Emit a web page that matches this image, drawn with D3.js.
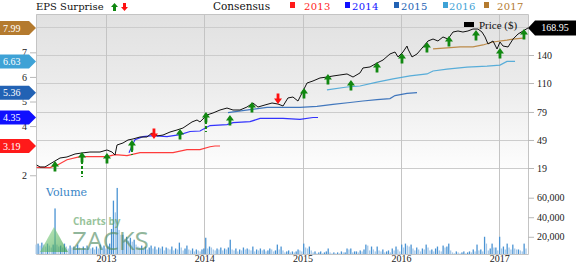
<!DOCTYPE html>
<html>
<head>
<meta charset="utf-8">
<script src="https://cdn.jsdelivr.net/npm/d3@7"></script>
<style>
  body { margin: 0; background: #fff; }
  svg { display: block; }
  .tick text { font-family: "Liberation Serif", serif; font-size: 10px; fill: #222; }
  .tick line { stroke: #b8b8b8; }
</style>
</head>
<body>
<div id="chart"></div>
<script>
// ---- values ----
const yearTicks = [2013, 2014, 2015, 2016, 2017];
const priceGrid = [19, 49, 79, 110, 140, 170];
const priceTicks = [19, 49, 79, 110, 140];
const epsTicks = [2, 4, 5, 6, 7];
const volumeTicks = [20000, 40000, 60000];
const lastPrice = 168.95;

// closing price, [decimal year, $]
const price = [
  [2012.295, 22.2], [2012.329, 20.1], [2012.379, 20.1], [2012.430, 23.3], [2012.481, 26.5],
  [2012.532, 29.7], [2012.603, 30.8], [2012.685, 34.0], [2012.756, 35.1], [2012.837, 36.1],
  [2012.939, 36.1], [2013.010, 38.3], [2013.061, 36.1], [2013.092, 32.9], [2013.112, 43.6],
  [2013.173, 45.8], [2013.224, 49.0], [2013.275, 50.1], [2013.346, 52.2], [2013.417, 52.2],
  [2013.468, 56.5], [2013.519, 53.3], [2013.580, 54.3], [2013.651, 57.5], [2013.722, 59.7],
  [2013.783, 61.8], [2013.875, 68.3], [2013.926, 70.4], [2013.956, 68.3], [2014.027, 75.8],
  [2014.088, 77.9], [2014.160, 81.1], [2014.231, 83.2], [2014.292, 81.1], [2014.363, 81.1],
  [2014.434, 84.3], [2014.495, 88.6], [2014.546, 84.3], [2014.618, 86.5], [2014.689, 88.6],
  [2014.750, 87.5], [2014.801, 85.4], [2014.851, 94.0], [2014.902, 95.0], [2014.953, 90.7],
  [2014.994, 99.3], [2015.045, 110.0], [2015.106, 112.2], [2015.177, 115.4], [2015.248, 116.4],
  [2015.309, 117.5], [2015.380, 118.6], [2015.452, 119.7], [2015.513, 116.4], [2015.584, 120.8],
  [2015.614, 126.1], [2015.686, 127.2], [2015.757, 131.4], [2015.818, 134.6], [2015.889, 141.1],
  [2015.940, 143.2], [2015.971, 137.9], [2016.021, 143.2], [2016.062, 149.6], [2016.072, 146.4],
  [2016.113, 137.9], [2016.164, 141.1], [2016.225, 148.6], [2016.276, 155.0], [2016.327, 157.1],
  [2016.377, 155.0], [2016.428, 159.3], [2016.479, 157.1], [2016.530, 164.6], [2016.581, 165.7],
  [2016.631, 164.6], [2016.682, 165.7], [2016.733, 167.8], [2016.784, 167.8], [2016.825, 164.6],
  [2016.856, 159.3], [2016.886, 151.8], [2016.937, 155.0], [2016.978, 146.4], [2017.008, 153.9],
  [2017.039, 149.6], [2017.090, 148.6], [2017.141, 157.1], [2017.192, 162.5], [2017.243, 165.7],
  [2017.293, 168.95]
];

// consensus EPS estimate for each fiscal year, [decimal year, EPS]
const cons2013 = [
  [2012.295, 2.32], [2012.430, 2.31], [2012.512, 2.43], [2012.603, 2.63], [2012.736, 2.76],
  [2012.868, 2.76], [2013.010, 2.76], [2013.092, 2.84], [2013.214, 2.80], [2013.346, 2.92],
  [2013.519, 2.92], [2013.682, 2.92], [2013.824, 3.04], [2013.956, 3.04], [2014.058, 3.16],
  [2014.109, 3.19], [2014.160, 3.19]
];
const cons2014 = [
  [2013.234, 2.92], [2013.295, 3.45], [2013.376, 3.57], [2013.478, 3.61], [2013.621, 3.57],
  [2013.753, 3.65], [2013.855, 3.78], [2013.956, 3.80], [2014.058, 4.02], [2014.231, 4.06],
  [2014.292, 4.14], [2014.465, 4.18], [2014.567, 4.31], [2014.801, 4.31], [2014.974, 4.27],
  [2015.106, 4.35], [2015.157, 4.35]
];
const cons2015 = [
  [2014.241, 4.55], [2014.465, 4.67], [2014.638, 4.76], [2014.974, 4.76], [2015.146, 4.80],
  [2015.309, 4.88], [2015.482, 4.96], [2015.614, 5.02], [2015.757, 5.08], [2015.889, 5.12],
  [2015.940, 5.24], [2016.062, 5.33], [2016.164, 5.36]
];
const cons2016 = [
  [2015.248, 5.47], [2015.452, 5.59], [2015.584, 5.63], [2015.757, 5.79], [2015.920, 5.92],
  [2016.093, 6.04], [2016.266, 6.12], [2016.327, 6.24], [2016.469, 6.32], [2016.672, 6.40],
  [2016.876, 6.44], [2017.008, 6.48], [2017.079, 6.63], [2017.161, 6.63]
];
const cons2017 = [
  [2016.327, 7.14], [2016.469, 7.18], [2016.601, 7.22], [2016.733, 7.22], [2016.835, 7.30],
  [2016.937, 7.42], [2017.079, 7.50], [2017.140, 7.54], [2017.242, 7.58]
];
const consYears = ["2013", "2014", "2015", "2016", "2017"];
const consLast = [3.19, 4.35, 5.36, 6.63, 7.99];

// EPS surprise markers: date, price level at the arrow tip, direction, dashed tail end
const surpriseT = [2012.481, 2012.756, 2013.010, 2013.264, 2013.488, 2013.753, 2014.017,
  2014.261, 2014.485, 2014.750, 2015.014, 2015.258, 2015.492, 2015.757, 2016.011, 2016.265,
  2016.489, 2016.764, 2017.008, 2017.252];
const surpriseAt = [26.5, 36.1, 35.1, 49.0, 50.1, 60.8, 79.0, 75.8, 89.7, 87.5, 104.7, 119.7,
  113.2, 132.5, 142.1, 153.9, 160.3, 166.8, 147.5, 167.8];
const surpriseDir = ["up", "up", "up", "up", "down", "up", "up", "up", "up", "down", "up", "up",
  "up", "up", "up", "up", "up", "up", "up", "up"];
const surpriseTail = [null, 9.4, null, 32.9, null, null, 57.5, null, null, null, null, null,
  null, null, null, null, null, null, null, null];

// weekly volume, thousands of shares
const volumeStart = 2012.29;
const volume = [
  12, 13, 11, 14, 12, 10, 13, 11, 9, 12,
  49, 12, 10, 11, 9, 13, 10, 8, 11, 9,
  10, 8, 12, 9, 7, 10, 8, 11, 9, 8,
  9, 7, 10, 8, 12, 9, 11, 8, 10, 13,
  28, 57, 45, 70, 27, 22, 22, 18, 20, 16,
  19, 15, 17, 12, 10, 9, 11, 8, 10, 7,
  9, 11, 8, 10, 7, 9, 8, 10, 6, 9,
  8, 7, 10, 6, 8, 7, 14, 9, 6, 8,
  11, 7, 6, 8, 5, 7, 6, 5, 7, 8,
  19, 8, 10, 9, 7, 6, 8, 7, 9, 6,
  8, 7, 9, 17, 7, 6, 8, 5, 7, 6,
  9, 7, 8, 7, 6, 10, 5, 7, 6, 8,
  6, 7, 5, 6, 8, 7, 5, 6, 12, 7,
  10, 6, 4, 5, 6, 4, 5, 4, 5, 7,
  6, 5, 13, 9, 8, 10, 6, 4, 5, 3,
  4, 5, 3, 4, 5, 8, 4, 3, 4, 3,
  4, 3, 5, 4, 4, 8, 7, 8, 4, 5,
  5, 4, 6, 5, 7, 12, 11, 6, 10, 7,
  5, 10, 6, 5, 7, 4, 5, 6, 4, 8,
  6, 10, 7, 5, 12, 9, 13, 11, 10, 12,
  8, 6, 9, 7, 5, 8, 7, 12, 9, 6,
  7, 5, 8, 10, 6, 5, 11, 9, 10, 13,
  6, 4, 3, 5, 4, 3, 4, 5, 3, 4,
  5, 4, 7, 5, 12, 6, 7, 5, 20, 13,
  6, 8, 13, 9, 9, 6, 20, 8, 10, 7,
  13, 9, 7, 12, 8, 7, 7, 6, 5, 13,
  8
];

// ---- chart ----
class EpsChart {
  constructor(opts) {
    this.element = opts.element;
    this.width = 576;
    this.height = 264;
    this.box = { left: 36, right: 528, top: 14, priceBottom: 168, bottom: 254 };
    this.colors = { "2013": "#ff1a1a", "2014": "#1010ff", "2015": "#2262b4", "2016": "#3ea2d6", "2017": "#b47a2e" };
    this.draw();
  }

  draw() {
    const svg = d3.select(this.element).append("svg")
      .attr("width", this.width)
      .attr("height", this.height);
    this.svg = svg;
    this.createScales();
    this.addBackground();
    this.addVolume();
    this.addWatermark();
    this.addAxes();
    this.addLines();
    this.addSurprises();
    this.addLabels();
    this.addLegend();
  }

  createScales() {
    const b = this.box;
    this.x = d3.scaleLinear().domain([2012.288, 2017.293]).range([b.left, b.right]);
    this.yPrice = d3.scaleLinear().domain([19, 140]).range([168, 55]);
    this.yEps = d3.scaleLinear().domain([3.19, 7.99]).range([146, 28]);
    this.yVol = d3.scaleLinear().domain([0, 60000]).range([256.3, 197.7]);
  }

  addBackground() {
    const b = this.box;
    const grad = this.svg.append("defs").append("linearGradient")
      .attr("id", "bg").attr("x1", 0).attr("y1", 0).attr("x2", 0).attr("y2", 1);
    grad.append("stop").attr("offset", "0%").attr("stop-color", "#e1e1e1");
    grad.append("stop").attr("offset", "45%").attr("stop-color", "#ebebeb");
    grad.append("stop").attr("offset", "100%").attr("stop-color", "#fdfdfd");
    this.svg.append("rect")
      .attr("x", b.left).attr("y", b.top)
      .attr("width", b.right - b.left).attr("height", b.priceBottom - b.top)
      .attr("fill", "url(#bg)");

    // grid
    this.svg.append("g").selectAll("line").data(priceGrid).join("line")
      .attr("x1", b.left).attr("x2", b.right)
      .attr("y1", d => Math.round(this.yPrice(d)) + 0.5).attr("y2", d => Math.round(this.yPrice(d)) + 0.5)
      .attr("stroke", "#cccccc");
    this.svg.append("g").selectAll("line").data(yearTicks).join("line")
      .attr("x1", d => Math.round(this.x(d)) + 0.5).attr("x2", d => Math.round(this.x(d)) + 0.5)
      .attr("y1", b.top).attr("y2", b.bottom)
      .attr("stroke", "#c4c4c4");
    // frame
    this.svg.append("path")
      .attr("d", `M${b.left + 0.5},${b.top + 0.5}H${b.right + 0.5}V${b.bottom + 0.5}H${b.left + 0.5}Z`)
      .attr("fill", "none").attr("stroke", "#c4c4c4");
  }

  addVolume() {
    const b = this.box;
    const week = 1 / 52.18;
    const bars = volume.map((v, i) => ({ t: volumeStart + i * week, v: v * 1000, up: i > 0 && v >= volume[i - 1] }));
    this.svg.append("g").selectAll("rect").data(bars).join("rect")
      .attr("x", d => this.x(d.t) - 0.65)
      .attr("width", 1.3)
      .attr("y", d => Math.min(b.bottom, this.yVol(d.v)))
      .attr("height", d => Math.max(0, b.bottom - this.yVol(d.v)))
      .attr("fill", d => d.up ? "#4a93d3" : "#a5c8e9");

    this.svg.append("text")
      .attr("x", 46).attr("y", 196)
      .attr("font-family", "DejaVu Serif").attr("font-size", 11)
      .attr("fill", "#3b86c6")
      .text("Volume");
  }

  addWatermark() {
    const g = this.svg.append("g").attr("opacity", 0.62);
    const tg = this.svg.select("defs").append("linearGradient")
      .attr("id", "tri").attr("x1", 0).attr("y1", 0).attr("x2", 1).attr("y2", 1);
    tg.append("stop").attr("offset", "0%").attr("stop-color", "#9ee09a");
    tg.append("stop").attr("offset", "100%").attr("stop-color", "#2f9a3c");
    g.append("path").attr("d", "M54,227 L68,252 L40,252 Z").attr("fill", "url(#tri)");
    g.append("text").attr("x", 73).attr("y", 225)
      .attr("font-family", "Open Sans").attr("font-weight", "bold").attr("font-size", 10)
      .attr("fill", "#5aa05e").text("Charts by");
    g.append("text").attr("x", 72).attr("y", 250)
      .attr("font-family", "Open Sans").attr("font-size", 26).attr("letter-spacing", -0.3)
      .attr("fill", "#4f8a5e").text("ZACKS");
  }

  addAxes() {
    const b = this.box;
    const priceAxis = d3.axisRight(this.yPrice)
      .tickValues(priceTicks).tickSize(6).tickPadding(3).tickFormat(d3.format("d"));
    this.svg.append("g").attr("transform", `translate(${b.right},0)`).call(priceAxis)
      .call(g => g.select(".domain").remove());

    const volAxis = d3.axisRight(this.yVol)
      .tickValues(volumeTicks).tickSize(6).tickPadding(3).tickFormat(d3.format(","));
    this.svg.append("g").attr("transform", `translate(${b.right},0)`).call(volAxis)
      .call(g => g.select(".domain").remove());

    const epsAxis = d3.axisLeft(this.yEps)
      .tickValues(epsTicks).tickSize(6).tickPadding(3).tickFormat(d3.format("d"));
    this.svg.append("g").attr("transform", `translate(${b.left},0)`).call(epsAxis)
      .call(g => g.select(".domain").remove());

    const yearAxis = d3.axisBottom(this.x)
      .tickValues(yearTicks).tickSize(0).tickPadding(1).tickFormat(d3.format("d"));
    this.svg.append("g").attr("transform", `translate(0,${b.bottom})`).call(yearAxis)
      .call(g => g.select(".domain").remove());
  }

  addLines() {
    const eps = d3.line().x(d => this.x(d[0])).y(d => this.yEps(d[1]));
    const series = [cons2013, cons2014, cons2015, cons2016, cons2017];
    series.forEach((s, i) => {
      this.svg.append("path").datum(s)
        .attr("d", eps).attr("fill", "none")
        .attr("stroke", this.colors[consYears[i]])
        .attr("stroke-width", 1.2).attr("opacity", 0.85);
    });
    const line = d3.line().x(d => this.x(d[0])).y(d => this.yPrice(d[1]));
    this.svg.append("path").datum(price)
      .attr("d", line).attr("fill", "none")
      .attr("stroke", "#111").attr("stroke-width", 1);
  }

  addSurprises() {
    const g = this.svg.append("g");
    surpriseT.forEach((t, i) => {
      const x = this.x(t);
      const y = this.yPrice(surpriseAt[i]);
      if (surpriseTail[i] !== null) {
        g.append("line")
          .attr("x1", x).attr("x2", x)
          .attr("y1", y + 9).attr("y2", this.yPrice(surpriseTail[i]))
          .attr("stroke", "#118811").attr("stroke-width", 2)
          .attr("stroke-dasharray", "3,2");
      }
      const d = surpriseDir[i] === "up"
        ? `M${x},${y} L${x + 4},${y + 5.5} L${x + 1.4},${y + 5.5} L${x + 1.4},${y + 10.5} L${x - 1.4},${y + 10.5} L${x - 1.4},${y + 5.5} L${x - 4},${y + 5.5} Z`
        : `M${x},${y} L${x + 4},${y - 5.5} L${x + 1.4},${y - 5.5} L${x + 1.4},${y - 10.5} L${x - 1.4},${y - 10.5} L${x - 1.4},${y - 5.5} L${x - 4},${y - 5.5} Z`;
      g.append("path").attr("d", d)
        .attr("fill", surpriseDir[i] === "up" ? "#118811" : "#ff1010");
    });
  }

  addLabels() {
    // consensus value tags on the left
    consLast.forEach((v, i) => {
      const y = this.yEps(v);
      this.svg.append("path")
        .attr("d", `M0,${y - 7} L29,${y - 7} L36,${y} L29,${y + 7} L0,${y + 7} Z`)
        .attr("fill", this.colors[consYears[i]]);
      this.svg.append("text")
        .attr("x", 3).attr("y", y + 3.5)
        .attr("font-family", "Liberation Serif").attr("font-size", 10)
        .attr("fill", "#fff").text(d3.format(".2f")(v));
    });
    // last price tag on the right
    const y = this.yPrice(lastPrice);
    this.svg.append("path")
      .attr("d", `M528,${y} L535,${y - 7.5} L576,${y - 7.5} L576,${y + 7.5} L535,${y + 7.5} Z`)
      .attr("fill", "#000");
    this.svg.append("text")
      .attr("x", 555).attr("y", y + 3.5).attr("text-anchor", "middle")
      .attr("font-family", "Liberation Serif").attr("font-size", 10)
      .attr("fill", "#fff").text(d3.format(".2f")(lastPrice));
    // price legend
    this.svg.append("rect").attr("x", 464).attr("y", 22).attr("width", 10).attr("height", 5).attr("fill", "#000");
    this.svg.append("text").attr("x", 479).attr("y", 29)
      .attr("font-family", "Liberation Serif").attr("font-size", 11)
      .attr("fill", "#111").text("Price ($)");
  }

  addLegend() {
    const g = this.svg.append("g").attr("font-family", "DejaVu Serif").attr("font-size", 10);
    g.append("text").attr("x", 36).attr("y", 10).attr("fill", "#111").text("EPS Surprise");
    g.append("path").attr("d", "M114.5,3 L118,7 L116,7 L116,11 L113,11 L113,7 L111,7 Z").attr("fill", "#118811");
    g.append("path").attr("d", "M124.5,11 L128,7 L126,7 L126,3 L123,3 L123,7 L121,7 Z").attr("fill", "#ff1010");
    g.append("text").attr("x", 213).attr("y", 10).attr("fill", "#111").attr("font-size", 10.5).text("Consensus");

    const sq = [290, 345, 394, 443, 484];
    const tx = [304, 352, 401, 449, 497];
    consYears.forEach((yr, i) => {
      g.append("rect").attr("x", sq[i]).attr("y", 2).attr("width", 5).attr("height", 6)
        .attr("fill", this.colors[yr]);
      g.append("text").attr("x", tx[i]).attr("y", 9.5).attr("fill", this.colors[yr])
        .attr("letter-spacing", 0.3).text(yr);
    });
  }
}

new EpsChart({ element: document.getElementById("chart") });
</script>
</body>
</html>
